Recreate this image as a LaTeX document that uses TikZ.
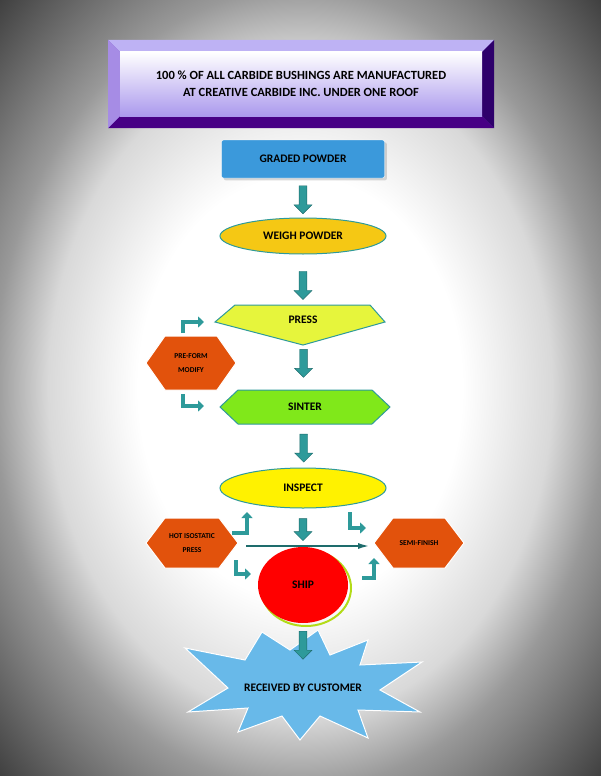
\documentclass[tikz,border=0pt]{standalone}
\usepackage{fontspec}
\setmainfont{Carlito}
\usetikzlibrary{shapes.geometric,shapes.arrows,arrows.meta,shadows}
\definecolor{teal1}{HTML}{2E9A9A}
\definecolor{teald}{HTML}{1E6C6C}
\definecolor{orng}{HTML}{E2520C}
\pgfdeclareradialshading{vig}{\pgfpoint{0bp}{0bp}}{color(0bp)=(white); color(9bp)=(white); color(14bp)=(black!15); color(17bp)=(black!40); color(23.5bp)=(black!75); color(25bp)=(black!80)}
\begin{document}
\begin{tikzpicture}[x=1pt,y=-1pt,
  lbl/.style={font=\bfseries\fontsize{11.5}{13}\selectfont, align=center},
  blk/.style={single arrow, rotate=-90, fill=teal1, draw=teald, minimum height=28pt, minimum width=18pt, single arrow head extend=3pt, inner sep=2pt},
  bent/.style={draw=teal1, line width=4pt, -{Triangle[length=6pt,width=11pt]}}
]
\useasboundingbox (0,0) rectangle (600,776);
\shade[shading=vig] (-150,-200) rectangle (750,976);
% banner
\fill[violet!55!blue!70] (108,40) rectangle (494,128);
\fill[violet!30!blue!30] (108,40) -- (494,40) -- (482,52) -- (120,52) -- cycle;
\fill[violet!70!blue!80!black] (108,128) -- (494,128) -- (482,116) -- (120,116) -- cycle;
\fill[violet!45!blue!45] (108,40) -- (120,52) -- (120,116) -- (108,128) -- cycle;
\fill[violet!60!blue!60!black] (494,40) -- (482,52) -- (482,116) -- (494,128) -- cycle;
\shade[top color=white, bottom color=violet!35!blue!40] (120,52) rectangle (482,116);
\node[lbl, font=\bfseries\fontsize{12.5}{17}\selectfont, text=black] (title) at (301,84) {100 \% OF ALL CARBIDE BUSHINGS ARE MANUFACTURED\\AT CREATIVE CARBIDE INC. UNDER ONE ROOF};
% nodes
\node[lbl, draw=white, fill=cyan!70!blue!80, rounded corners=2pt, minimum width=163pt, minimum height=38pt, drop shadow={opacity=0.3}] (gp) at (303,159) {GRADED POWDER};
\node[lbl, ellipse, draw=teal1, line width=1pt, fill={rgb,255:red,245;green,200;blue,20}, minimum width=166pt, minimum height=36pt] (wp) at (303,236) {WEIGH POWDER};
\draw[draw=teal1, line width=1pt, fill={rgb,255:red,230;green,245;blue,60}] (215,322) -- (235,305) -- (370,305) -- (385,322) -- (303,345) -- cycle;
\node[lbl] (press) at (303,320) {PRESS};
\coordinate (pressb) at (303,345);
\draw[draw=teal1, line width=1pt, fill={rgb,255:red,128;green,232;blue,26}] (220,407) -- (238,390) -- (372,390) -- (390,407) -- (372,424) -- (238,424) -- cycle;
\node[lbl] (sinter) at (305,407) {SINTER};
\draw[fill=orng, draw=white, line width=1pt] (146,363) -- (165,336) -- (217,336) -- (236,363) -- (217,390) -- (165,390) -- cycle;
\node[lbl, font=\bfseries\fontsize{7.5}{14}\selectfont] (pre) at (191,363) {PRE-FORM\\MODIFY};
\node[lbl, ellipse, draw=teal1, line width=1pt, fill=yellow, minimum width=166pt, minimum height=40pt] (insp) at (303,488) {INSPECT};
\draw[fill=orng, draw=white, line width=1pt] (146,543) -- (165,518) -- (219,518) -- (238,543) -- (219,568) -- (165,568) -- cycle;
\node[lbl, font=\bfseries\fontsize{7.5}{14}\selectfont] (hip) at (192,543) {HOT ISOSTATIC\\PRESS};
\draw[fill=orng, draw=white, line width=1pt] (374,543) -- (393,518) -- (445,518) -- (464,543) -- (445,568) -- (393,568) -- cycle;
\node[lbl, font=\bfseries\fontsize{7.5}{9}\selectfont] (semi) at (419,543) {SEMI-FINISH};
\draw[yellow!70!green, line width=2pt] (306,588) ellipse (45 and 38);
\node[lbl, ellipse, fill=red, minimum width=90pt, minimum height=76pt] (ship) at (303,585) {SHIP};
\fill[cyan!80!blue!60, draw=white, line width=1pt] (185,648) -- (245,660) -- (262,632) -- (290,650) -- (318,630) -- (330,655) -- (368,640) -- (360,665) -- (422,662) -- (380,690) -- (420,712) -- (358,710) -- (368,738) -- (320,716) -- (300,740) -- (282,716) -- (238,732) -- (248,708) -- (188,712) -- (228,688) -- cycle;
\node[lbl] (recv) at (303,688) {RECEIVED BY CUSTOMER};
% block arrows
\path (gp.south) -- (wp.north) node[midway, blk] {};
\path (wp.south) -- (press.north) node[pos=0.5, blk] {};
\path (pressb) -- (sinter) node[pos=0.3, blk] {};
\path (sinter) -- (insp.north) node[pos=0.6, blk] {};
\path (insp.south) -- (ship.north) node[pos=0.5, blk, minimum height=22pt] {};
\path (ship.south) -- (recv) node[pos=0.35, blk] {};
% horizontal arrow
\draw[teald, line width=2pt, -{Latex[length=12pt,width=6pt]}] (hip.east) ++ (28,3) -- (370,546);
% bent arrows
\draw[bent] (183,333) -- (183,322) -- (204,322);
\draw[bent] (183,394) -- (183,406) -- (204,406);
\draw[bent] (232,533) -- (247,533) -- (247,512);
\draw[bent] (350,512) -- (350,528) -- (366,528);
\draw[bent] (236,560) -- (236,574) -- (251,574);
\draw[bent] (362,578) -- (374,578) -- (374,558);
\end{tikzpicture}
\end{document}
